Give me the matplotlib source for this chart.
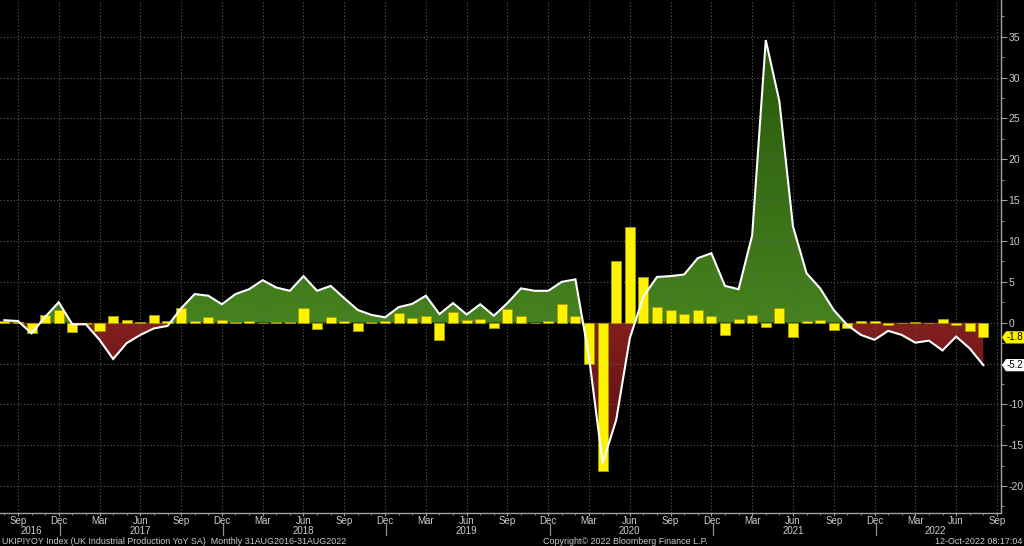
import numpy as np
import pandas as pd
import matplotlib
matplotlib.use("Agg")
import matplotlib.pyplot as plt
from matplotlib.path import Path
from matplotlib.patches import PathPatch, Polygon
from matplotlib.colors import LinearSegmentedColormap
from matplotlib.lines import Line2D
import matplotlib.transforms as mtransforms

plt.rcParams["font.family"] = ["Liberation Sans", "DejaVu Sans"]
plt.rcParams["axes.unicode_minus"] = False

# UK industrial production, monthly Aug 2016 - Aug 2022
dates = pd.date_range("2016-08-31", periods=73, freq="ME")

# YoY % (white line / filled area)
yoy = [0.3, 0.2, -1.3, 0.7, 2.5, -0.2, -0.2, -2.1, -4.45, -2.5,
       -1.5, -0.7, -0.4, 1.75, 3.5, 3.3, 2.25, 3.5, 4.1, 5.2,
       4.3, 3.9, 5.7, 3.9, 4.5, 3.0, 1.55, 0.95, 0.65, 1.9,
       2.3, 3.3, 1.05, 2.4, 1.0, 2.25, 0.85, 2.4, 4.2, 3.9,
       3.9, 5.0, 5.3, -4.2, -17.2, -11.9, -1.9, 3.2, 5.6, 5.7,
       5.9, 7.9, 8.5, 4.5, 4.1, 10.7, 34.6, 27.1, 11.8, 6.05,
       4.2, 1.55, -0.3, -1.5, -2.1, -1.0, -1.5, -2.45, -2.2, -3.4,
       -1.7, -3.15, -5.2]

# MoM % (yellow bars)
mom = [0.2, 0.1, -1.3, 0.9, 1.5, -1.15, -0.2, -1.05, 0.8, 0.3,
       0.05, 0.9, 0.2, 1.85, 0.25, 0.75, 0.3, 0.05, 0.25, -0.1,
       0.05, 0.05, 1.75, -0.75, 0.75, 0.25, -1.0, 0.05, 0.15, 1.2,
       0.6, 0.85, -2.15, 1.25, 0.35, 0.5, -0.6, 1.65, 0.85, -0.1,
       0.15, 2.3, 0.85, -5.0, -18.1, 7.6, 11.7, 5.6, 1.95, 1.6,
       1.0, 1.6, 0.8, -1.5, 0.5, 0.95, -0.5, 1.8, -1.8, 0.25,
       0.3, -0.95, -0.65, 0.2, 0.2, -0.3, -0.1, 0.05, -0.05, 0.45,
       -0.25, -1.0, -1.8]

month_names = {3: "Mar", 6: "Jun", 9: "Sep", 12: "Dec"}
y_ticks = [35, 30, 25, 20, 15, 10, 5, 0, -5, -10, -15, -20]

title_text = "UKIPIYOY Index (UK Industrial Production YoY SA)  Monthly 31AUG2016-31AUG2022"
copyright_text = "Copyright\u00a9 2022 Bloomberg Finance L.P."
stamp_text = "12-Oct-2022 08:17:04"

x = np.arange(len(dates))
yoy = np.array(yoy)
mom = np.array(mom)

TXT = "#cccccc"
xmin, xmax = -0.32, 73.3
ymin, ymax = -23.3, 39.5
H = 546.0

fig = plt.figure(figsize=(10.24, 5.46), dpi=100, facecolor="black")
ax = fig.add_axes([0, 33 / H, 1001 / 1024, 513 / H])
ax.set_facecolor("black")


def gradient_fill(mask, c_near, c_far, lo, hi, near_at_top):
    coll = ax.fill_between(x, yoy, 0, where=mask, interpolate=True,
                           facecolor="none", edgecolor="none", lw=0)
    path = Path.make_compound_path(*coll.get_paths())
    patch = PathPatch(path, transform=ax.transData, facecolor="none", edgecolor="none")
    ax.add_patch(patch)
    cols = [c_far, c_near] if near_at_top else [c_near, c_far]
    cmap = LinearSegmentedColormap.from_list("g", cols)
    grad = np.linspace(0, 1, 256).reshape(-1, 1)
    im = ax.imshow(grad, extent=[xmin, xmax, lo, hi], origin="lower",
                   aspect="auto", cmap=cmap, zorder=1, interpolation="bilinear")
    im.set_clip_path(patch)


gradient_fill(yoy >= 0, "#46821f", "#27560a", 0, 36, near_at_top=False)
gradient_fill(yoy <= 0, "#831f1f", "#560d0d", -18, 0, near_at_top=True)

ax.bar(x, mom, width=0.74, color="#fff200", edgecolor="#a39c00", linewidth=0.6, zorder=3)
ax.plot(x, yoy, color="white", lw=1.5, zorder=4, solid_joinstyle="miter")

ax.set_xlim(xmin, xmax)
ax.set_ylim(ymin, ymax)

# x axis: quarterly labels, monthly minor ticks
quarter_idx = [i for i, d in enumerate(dates) if d.month in month_names]
quarter_idx.append(quarter_idx[-1] + 3)  # Sep 2022 tick
labels = [month_names[d.month] for d in dates if d.month in month_names] + ["Sep"]
ax.set_xticks(quarter_idx)
ax.set_xticklabels(labels)
ax.set_xticks(np.arange(0, 74), minor=True)
ax.tick_params(axis="x", which="major", direction="out", length=2, pad=0,
               labelsize=7, colors="#a0a0a0", labelcolor=TXT)
ax.tick_params(axis="x", which="minor", direction="out", length=1.5, colors="#a0a0a0")

# y axis on the right; the -5 label sits under the last-value tag
ax.yaxis.tick_right()
ax.set_yticks(y_ticks)
ax.set_yticklabels(["" if v == -5 else str(v) for v in y_ticks])
ax.set_yticks(np.arange(-22.5, 38, 2.5), minor=True)
ax.tick_params(axis="y", which="major", direction="out", length=4, pad=1.5,
               labelsize=7.5, colors="#a0a0a0", labelcolor=TXT)
ax.tick_params(axis="y", which="minor", direction="out", length=2.5, colors="#a0a0a0")

for s in ["left", "top"]:
    ax.spines[s].set_visible(False)
for s in ["right", "bottom"]:
    ax.spines[s].set_color("#a0a0a0")
    ax.spines[s].set_linewidth(1.0)

ax.grid(True, which="major", color="#5c5c5c", linestyle=(0, (1, 2)), lw=0.8)
for gl in ax.get_xgridlines() + ax.get_ygridlines():
    gl.set_zorder(2)

# year labels and separators
blend = mtransforms.blended_transform_factory(ax.transData, fig.transFigure)
for yr in sorted(set(d.year for d in dates)):
    idx = [i for i, d in enumerate(dates) if d.year == yr]
    if len(idx) == 12:
        pos = [i for i in idx if dates[i].month == 6][0]
    else:
        pos = np.mean(idx)
    fig.text(pos, (H - 531) / H, str(yr), transform=blend, ha="center",
             va="center", fontsize=7, color=TXT)
for i, d in enumerate(dates):
    if d.month == 12:
        fig.add_artist(Line2D([i + 0.1, i + 0.1], [(H - 535) / H, (H - 524) / H],
                              transform=blend, color="#909090", lw=0.9))

# last value tags
tag = mtransforms.blended_transform_factory(fig.transFigure, ax.transData)
for val, fc in [(mom[-1], "#fff200"), (yoy[-1], "white")]:
    h = 0.75
    x0, x1, x2 = 1002 / 1024, 1006 / 1024, 1.0
    poly = Polygon([(x0, val), (x1, val + h), (x2, val + h), (x2, val - h), (x1, val - h)],
                   closed=True, transform=tag, facecolor=fc, edgecolor="none",
                   clip_on=False, zorder=10)
    ax.add_artist(poly)
    ax.text(1006.5 / 1024, val, f"{val:.1f}", transform=tag, ha="left", va="center",
            fontsize=7, color="black", zorder=11, clip_on=False)

# footer
fy = (H - 541.5) / H
fig.text(2 / 1024, fy, title_text, ha="left", va="center", fontsize=6.4, color=TXT)
fig.text(625 / 1024, fy, copyright_text, ha="center", va="center", fontsize=6.4, color=TXT)
fig.text(1022 / 1024, fy, stamp_text, ha="right", va="center", fontsize=6.4, color=TXT)

fig.savefig("out.png", dpi=100, facecolor="black")
